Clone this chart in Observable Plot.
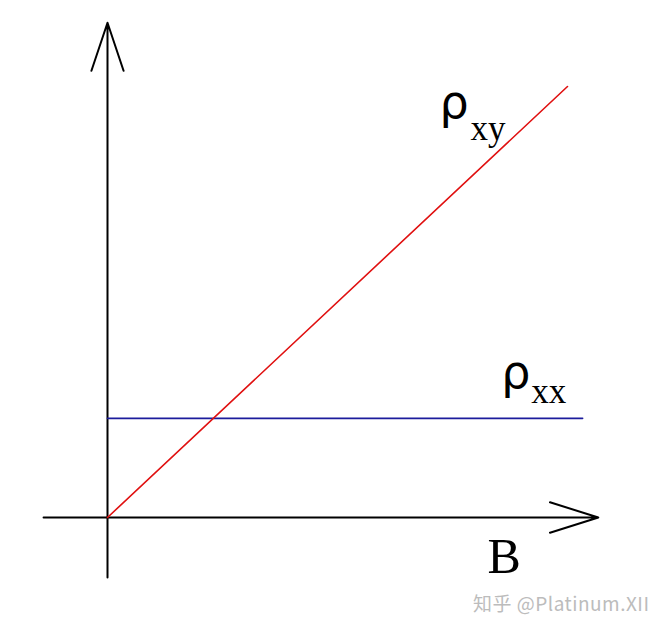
<!DOCTYPE html>
<html><head><meta charset="utf-8">
<script src="https://cdn.jsdelivr.net/npm/d3@7"></script>
<script src="https://cdn.jsdelivr.net/npm/@observablehq/plot@0.6"></script>
<style>
html,body{margin:0;padding:0;background:#fff;}
#wrap{position:relative;width:666px;height:630px;}
#wm{position:absolute;left:473px;top:589px;font:19px "Noto Sans CJK SC","DejaVu Sans",sans-serif;letter-spacing:0.5px;color:#bcbcbc;white-space:nowrap;}
</style></head>
<body><div id="wrap"><div id="chart"></div><div id="wm">知乎 @Platinum.XII</div></div>
<script>
// Data (B in arbitrary units, rho in arbitrary units)
const B = [0, 1];
const rhoXY = [0, 1];
const rhoXXB = [0, 1.033];
const rhoXX = [0.23, 0.23];
// axis extents
const axisB = [-0.139, 1.067];
const axisRho = [-0.139, 1.148];
// labels
const labels = [
  {name: "ρ", sub: "xy", b: 0.722, rho: 0.928, sb: 0.789, srho: 0.877},
  {name: "ρ", sub: "xx", b: 0.856, rho: 0.30, sb: 0.921, srho: 0.265}
];
const axisLabel = [{text: "B", b: 0.826, rho: -0.128}];

const xyData = B.map((b, i) => ({B: b, rho: rhoXY[i]}));
const xxData = rhoXXB.map((b, i) => ({B: b, rho: rhoXX[i]}));

const chart = Plot.plot({
  width: 666, height: 630,
  margin: 0,
  x: {domain: [0, 1], range: [107, 567], axis: null},
  y: {domain: [0, 1], range: [517, 86], axis: null},
  marks: [
    Plot.arrow([{}], {x1: axisB[0], x2: axisB[1], y1: 0, y2: 0, stroke: "black", strokeWidth: 2, headAngle: 35, headLength: 38, bend: 0}),
    Plot.arrow([{}], {x1: 0, x2: 0, y1: axisRho[0], y2: axisRho[1], stroke: "black", strokeWidth: 2, headAngle: 37, headLength: 38, bend: 0}),
    Plot.line(xxData, {x: "B", y: "rho", stroke: "#1c1c9c", strokeWidth: 1.6}),
    Plot.line(xyData, {x: "B", y: "rho", stroke: "#e01010", strokeWidth: 1.6}),
    Plot.text(labels, {x: "b", y: "rho", text: "name", textAnchor: "start", lineAnchor: "bottom", fontSize: 46, fontFamily: "DejaVu Sans", fill: "black"}),
    Plot.text(labels, {x: "sb", y: "srho", text: "sub", textAnchor: "start", lineAnchor: "bottom", fontSize: 35, fontFamily: "Liberation Serif", fill: "black"}),
    Plot.text(axisLabel, {x: "b", y: "rho", text: "text", textAnchor: "start", lineAnchor: "bottom", fontSize: 50, fontFamily: "Liberation Serif", fill: "black"})
  ]
});
document.getElementById("chart").appendChild(chart);
</script>
</body></html>
